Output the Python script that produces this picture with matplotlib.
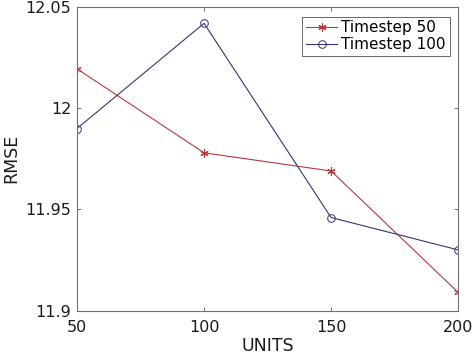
import matplotlib
matplotlib.use("Agg")
import matplotlib.pyplot as plt

# --- du lieu doc tu hinh ---
units = [50, 100, 150, 200]
rmse_ts50 = [12.0195, 11.978, 11.969, 11.909]
rmse_ts100 = [11.990, 12.042, 11.946, 11.930]
x_ticks = [50, 100, 150, 200]
y_ticks = [11.9, 11.95, 12.0, 12.05]
y_ticklabels = ["11.9", "11.95", "12", "12.05"]

fig = plt.figure(figsize=(4.74, 3.57), dpi=100)
ax = fig.add_axes([0.1625, 0.130, 0.804, 0.850])

# marker (6, 2, 0) = dau sao kieu MATLAB '*'
ax.plot(units, rmse_ts50, color="#b8383c", lw=0.8, marker=(6, 2, 0), ms=6,
        markeredgewidth=0.8, label="Timestep 50")
ax.plot(units, rmse_ts100, color="#35357a", lw=0.8, marker="o", ms=5.5,
        markeredgewidth=0.7, markerfacecolor="none", label="Timestep 100")

ax.set_xlim(50, 200)
ax.set_ylim(11.9, 12.05)
ax.set_xticks(x_ticks)
ax.set_yticks(y_ticks)
ax.set_yticklabels(y_ticklabels)
ax.tick_params(direction="in", top=True, right=True, length=3, width=0.6,
               color="#606060", labelsize=11.5, labelcolor="#1a1a1a")
ax.tick_params(axis="x", pad=7)
ax.tick_params(axis="y", pad=4)
for s in ax.spines.values():
    s.set_color("#707070")
    s.set_linewidth(0.8)

ax.set_xlabel("UNITS", fontsize=12.5, labelpad=1, color="#1a1a1a")
ax.set_ylabel("RMSE", fontsize=12.5, labelpad=4, color="#1a1a1a")

leg = ax.legend(loc="upper right", bbox_to_anchor=(0.978, 0.969), fontsize=11,
                frameon=True, fancybox=False, borderpad=0.25, handlelength=2.0,
                handletextpad=0.3, labelspacing=0.1, borderaxespad=0)
leg.get_frame().set_edgecolor("#404040")
leg.get_frame().set_linewidth(0.7)

fig.savefig("out.png", dpi=100)
